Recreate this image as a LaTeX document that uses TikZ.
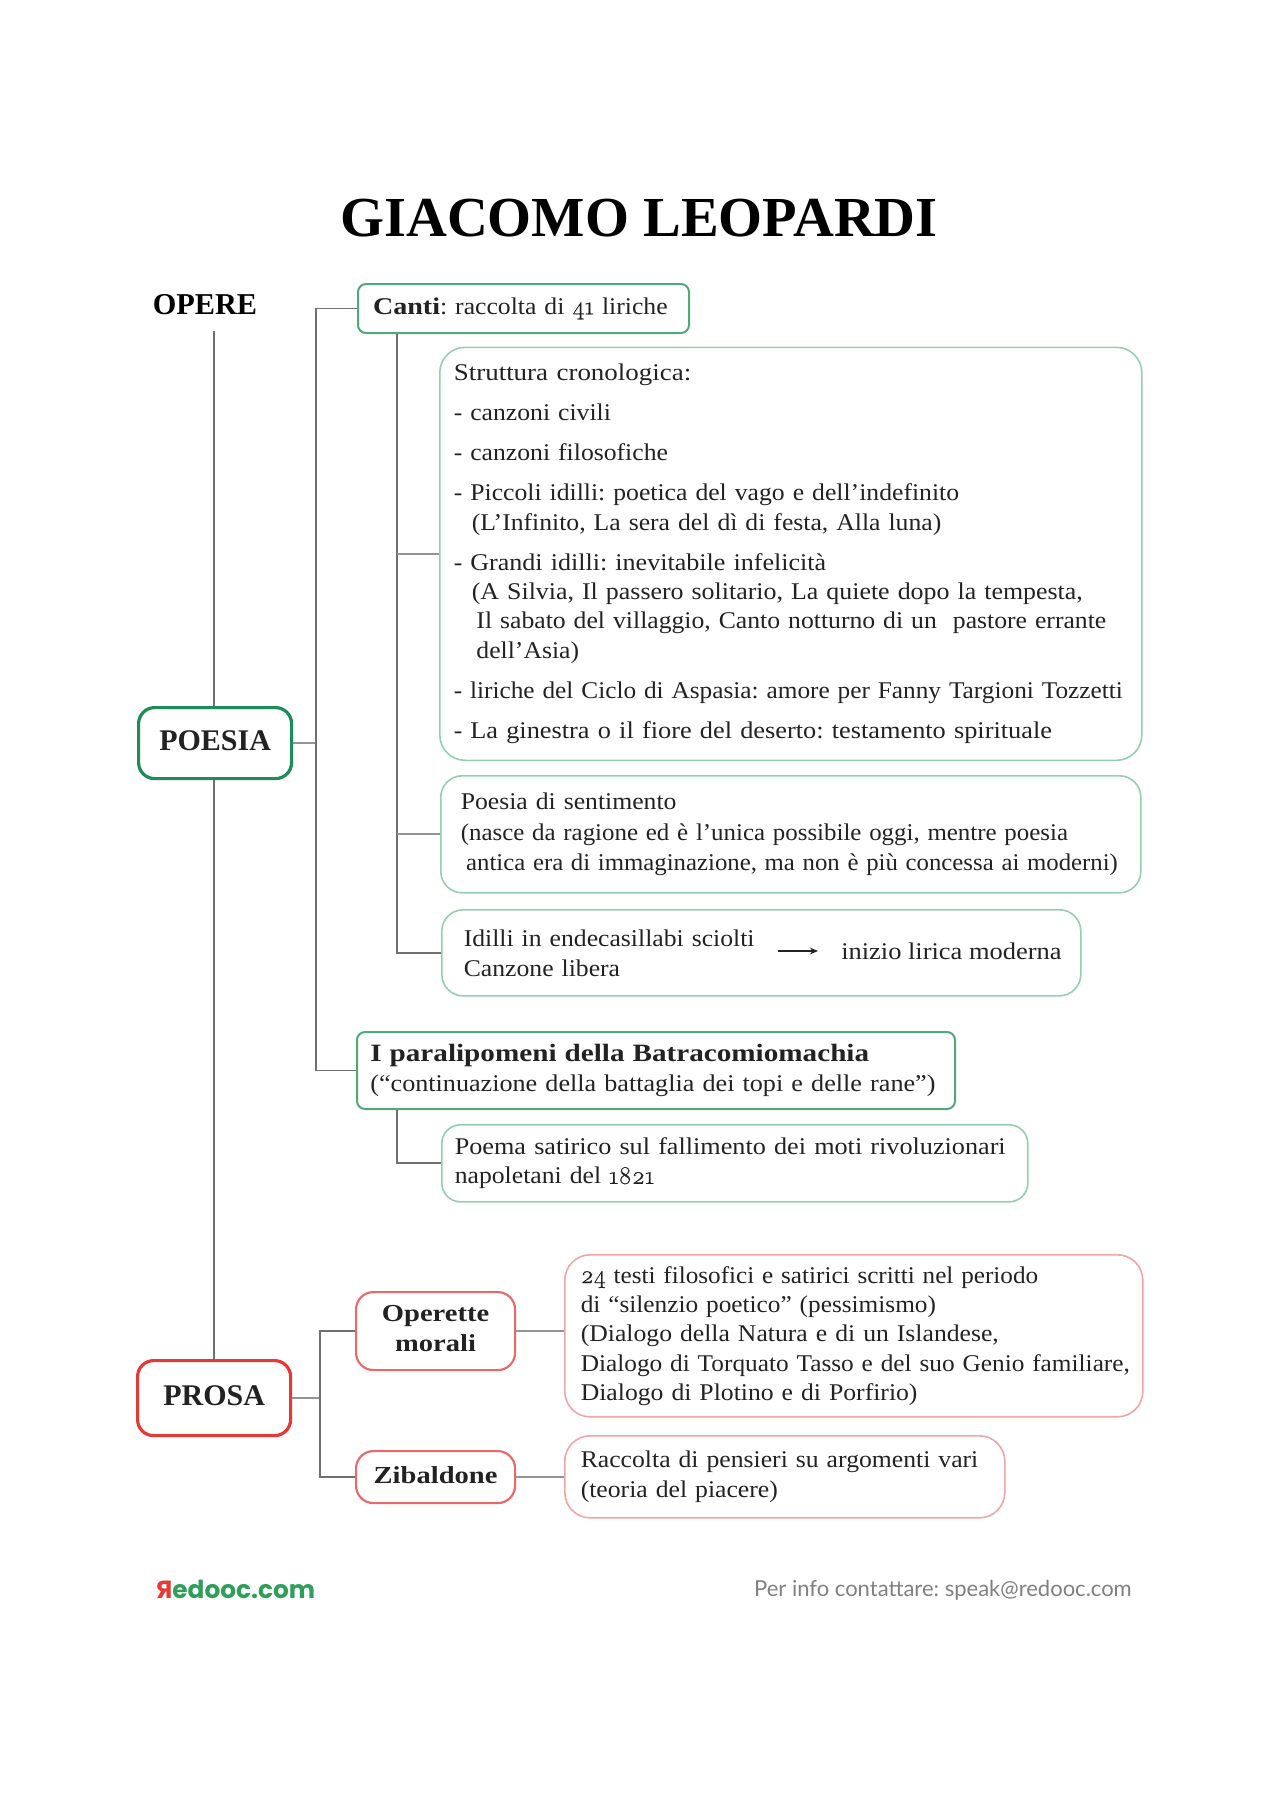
\documentclass[tikz,border=0pt]{standalone}
\usepackage{fontspec}
\usepackage{graphicx}
\usetikzlibrary{arrows.meta}
\setmainfont{Liberation Serif}[FakeStretch=1.07,BoldFeatures={FakeStretch=1.17}]
\newfontfamily\titlefam{Liberation Serif}
\newfontfamily\oldfam{Latin Modern Roman}[Numbers=OldStyle,FakeBold=0.6]
\newfontfamily\logofam{Poppins}
\newfontfamily\footfam{Lato}
\newcommand{\oldn}[1]{{\oldfam\fontsize{19}{22}\selectfont #1}}
\newcommand{\hsc}[2]{\scalebox{#1}[1]{#2}}
\definecolor{gstrong}{HTML}{1F8A5A}
\definecolor{gmid}{HTML}{4FA97A}
\definecolor{glight}{HTML}{93CFAE}
\definecolor{rstrong}{HTML}{E53935}
\definecolor{rmid}{HTML}{E9686A}
\definecolor{rlight}{HTML}{F2A5A5}
\definecolor{ink}{HTML}{222222}
\definecolor{wire}{HTML}{707070}
\definecolor{logogreen}{HTML}{2E9E5B}
\definecolor{footgray}{HTML}{808080}
\frenchspacing
\hyphenpenalty=10000
\tikzset{
  every node/.style={text=ink},
  textbox/.style={anchor=north west, align=left, inner ysep=0pt, rounded corners=#1,
    font=\fontsize{18}{22}\selectfont},
  main/.style={textbox=12pt, line width=2.4pt, font=\titlefam\bfseries\fontsize{22.5}{24}\selectfont, align=center, inner sep=0pt, text depth=3.4pt},
  sub/.style={textbox=13pt, line width=1.6pt, font=\bfseries\fontsize{18.3}{22.5}\selectfont, align=center, inner sep=0pt, text depth=3.4pt},
  wireline/.style={draw=wire, line width=1.4pt},
  wirepale/.style={draw=wire!75, line width=1.6pt},
}
\begin{document}
\begin{tikzpicture}[x=0.75pt,y=-0.75pt]
\useasboundingbox (0,0) rectangle (1280,1811);
% title
\node[font=\titlefam\bfseries\fontsize{42.4}{44}\selectfont, text=black] (title) at (639,218) {GIACOMO LEOPARDI};
\node[font=\titlefam\bfseries\fontsize{22.7}{24}\selectfont, text=black] (opere) at (205,305) {OPERE};
% heads
\node[main, draw=gstrong, minimum width=114.75pt, minimum height=53.25pt] (poesia) at (137,706) {POESIA};
\node[main, draw=rstrong, minimum width=114.75pt, minimum height=56.25pt] (prosa) at (136,1359) {PROSA};
% green boxes
\node[textbox=6pt, draw=gmid, line width=1.5pt, minimum height=36.75pt, inner xsep=11.25pt, text width=225.75pt] (canti) at (357,283)
  {\textbf{Canti}: raccolta di \oldn{41} liriche};
\node[textbox=19pt, draw=glight, line width=1.2pt, minimum height=309.75pt, inner xsep=10.5pt, text width=505.5pt] (struttura) at (439,346.5)
  {\hsc{1.05}{Struttura cronologica:}\\[8pt]
   - canzoni civili\\[8pt]
   - canzoni filosofiche\\[8pt]
   - Piccoli idilli: poetica del vago e dell’indefinito\\
   \hspace*{13.5pt}(L’Infinito, La sera del dì di festa, Alla luna)\\[8pt]
   - \hsc{1.015}{Grandi idilli: inevitabile infelicità}\\
   \hspace*{13.5pt}\hsc{1.008}{(A Silvia, Il passero solitario, La quiete dopo la tempesta,}\\
   \hspace*{17pt}\mbox{Il sabato del villaggio, Canto notturno di un\ \ pastore errante}\\
   \hspace*{17pt}dell’Asia)\\[8pt]
   \mbox{\hsc{0.985}{- liriche del Ciclo di Aspasia: amore per Fanny Targioni Tozzetti}}\\[8pt]
   - \hsc{1.025}{La ginestra o il fiore del deserto: testamento spirituale}};
\node[textbox=16pt, draw=glight, line width=1.2pt, minimum height=87.75pt, inner xsep=15pt, text width=495pt] (sentimento) at (440,775)
  {Poesia di sentimento\\[1.2pt]
   \hsc{0.97}{(nasce da ragione ed è l’unica possibile oggi, mentre poesia}\\[1.2pt]
   \hspace*{4pt}\mbox{\hsc{0.965}{antica era di immaginazione, ma non è più concessa ai moderni)}}};
\node[textbox=16pt, draw=glight, line width=1.2pt, minimum height=64.5pt, inner xsep=16.5pt, text width=446.25pt] (idilli) at (441,909)
  {Idilli in endecasillabi sciolti\\[0.5pt]
   Canzone libera};
\node[anchor=west, font=\fontsize{18}{22}\selectfont, inner xsep=0pt] (inizio) at (841,951) {\hsc{1.03}{inizio lirica moderna}};
\node[textbox=6pt, draw=gmid, line width=1.5pt, minimum height=57.75pt, inner xsep=10pt, text width=428.5pt] (para) at (356,1031)
  {{\fontsize{18.7}{22}\selectfont\textbf{I paralipomeni della Batracomiomachia}}\\
   \hsc{1.018}{(“continuazione della battaglia dei topi e delle rane”)}};
\node[textbox=14pt, draw=glight, line width=1.2pt, minimum height=57.75pt, inner xsep=9.75pt, text width=420pt] (poema) at (441,1124)
  {\hsc{1.02}{Poema satirico sul fallimento dei moti rivoluzionari}\\
   napoletani del \oldn{1821}};
% red boxes
\node[sub, draw=rmid, minimum width=119.25pt, minimum height=58.5pt] (operette) at (355,1291) {Operette\\morali};
\node[sub, draw=rmid, minimum width=119.25pt, minimum height=39pt] (zibaldone) at (355,1450) {Zibaldone};
\node[textbox=19pt, draw=rlight, line width=1.2pt, minimum height=121.5pt, inner xsep=12pt, text width=409.5pt] (testi) at (564,1254)
  {\hsc{0.98}{\oldn{24} testi filosofici e satirici scritti nel periodo}\\
   \hsc{0.985}{di “silenzio poetico” (pessimismo)}\\
   (Dialogo della Natura e di un Islandese,\\
   \mbox{\hsc{0.985}{Dialogo di Torquato Tasso e del suo Genio familiare,}}\\
   Dialogo di Plotino e di Porfirio)};
\node[textbox=19pt, draw=rlight, line width=1.2pt, minimum height=61.5pt, inner xsep=12pt, text width=306pt] (raccolta) at (564,1435)
  {Raccolta di pensieri su argomenti vari\\
   (teoria del piacere)};
% footer
\node[anchor=west, font=\logofam\bfseries\fontsize{18.6}{22}\selectfont, text=logogreen, inner sep=0pt] (logo) at (156,1589)
  {\textcolor{rstrong}{\scalebox{-1}[1]{R}}edooc.com};
\node[anchor=east, font=\footfam\fontsize{16.5}{18}\selectfont, text=footgray, inner sep=0pt] (foot) at (1132,1590)
  {Per info contattare: speak@redooc.com};
% helper coordinates
\coordinate (spine) at (214,331);
\coordinate (cx) at (316,0);
\coordinate (cv) at (397,0);
\coordinate (dx) at (320,0);
\coordinate (arrs) at (778,951);
\coordinate (arre) at (818,951);
% connectors
\draw[wireline] (spine) -- (spine |- poesia.north);
\draw[wireline] (spine |- poesia.south) -- (spine |- prosa.north);
\draw[wirepale] (poesia.east) -- (cx |- poesia.east);
\draw[wireline] (canti.west) -| (cx |- para.west) -- (para.west);
\draw[wireline] (cv |- canti.south) |- (idilli.west);
\draw[wirepale] (cv |- struttura.west) -- (struttura.west);
\draw[wirepale] (cv |- sentimento.west) -- (sentimento.west);
\draw[wireline] (cv |- para.south) |- (poema.west);
\draw[wirepale] (prosa.east) -- (dx |- prosa.east);
\draw[wireline] (operette.west) -| (dx |- zibaldone.west) -- (zibaldone.west);
\draw[wirepale] (operette.east) -- (operette.east -| testi.west);
\draw[wirepale] (zibaldone.east) -- (zibaldone.east -| raccolta.west);
\draw[line width=1pt, draw=ink, -{Stealth[length=6pt,width=5pt]}] (arrs) -- (arre);
\end{tikzpicture}
\end{document}
